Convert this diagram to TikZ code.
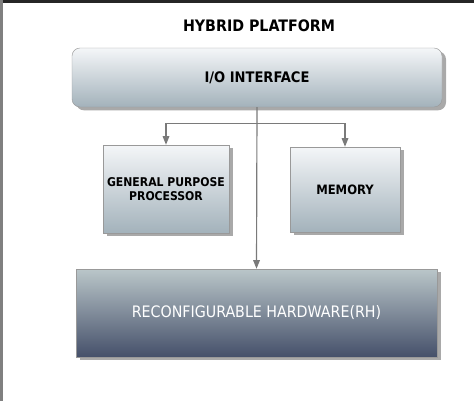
\documentclass[tikz,border=0pt]{standalone}
\usepackage{fontspec}
\setmainfont{DejaVu Sans Condensed}
\usetikzlibrary{shadows,arrows.meta,calc}
\definecolor{boxtop}{HTML}{F4F6F8}
\definecolor{boxbot}{HTML}{A3B2BB}
\definecolor{rhtop}{HTML}{BAC6C9}
\definecolor{rhbot}{HTML}{45506A}
\definecolor{linegray}{HTML}{7A7A7A}
\tikzset{
	unit/.style={draw=gray!80, thin, top color=boxtop, bottom color=boxbot, align=center,
		drop shadow={shadow xshift=1.2mm, shadow yshift=-1mm, opacity=0.45, fill=black!75}},
	link/.style={draw=linegray, line width=0.35mm, -{Triangle[length=2.6mm, width=2mm]}}
}
\begin{document}
\begin{tikzpicture}[x=0.3mm, y=-0.3mm]
	\useasboundingbox (0,0) rectangle (474,401);
	\fill[black!85] (0,0) rectangle (474,2.5);
	\fill[gray] (0,0) rectangle (2.5,401);
	\node[font=\bfseries\fontsize{13.5}{16}\selectfont] (title) at (259,26) {HYBRID PLATFORM};
	\node[unit, rounded corners=2.4mm, minimum width=111mm, minimum height=17.7mm, font=\bfseries\fontsize{12.4}{15}\selectfont] (io) at (257,77.5) {I/O INTERFACE};
	\node[unit, minimum width=36.6mm, minimum height=26.4mm, font=\bfseries\fontsize{10.3}{12.5}\selectfont] (gpp) at (166,189) {GENERAL PURPOSE\\PROCESSOR};
	\node[unit, minimum width=33mm, minimum height=25.5mm, font=\bfseries\fontsize{11}{13}\selectfont] (mem) at (345,189.5) {MEMORY};
	\node[unit, top color=rhtop, bottom color=rhbot, text=white, font=\fontsize{13.5}{16}\selectfont, minimum width=108.3mm, minimum height=26.4mm] (rh) at (256.5,313) {RECONFIGURABLE HARDWARE(RH)};
	\coordinate (split) at ($(io.south)+(0,16)$);
	\draw[link] (io.south) -- (rh.north);
	\draw[link] (split) -| (gpp.north);
	\draw[link] (split) -| (mem.north);
\end{tikzpicture}
\end{document}
